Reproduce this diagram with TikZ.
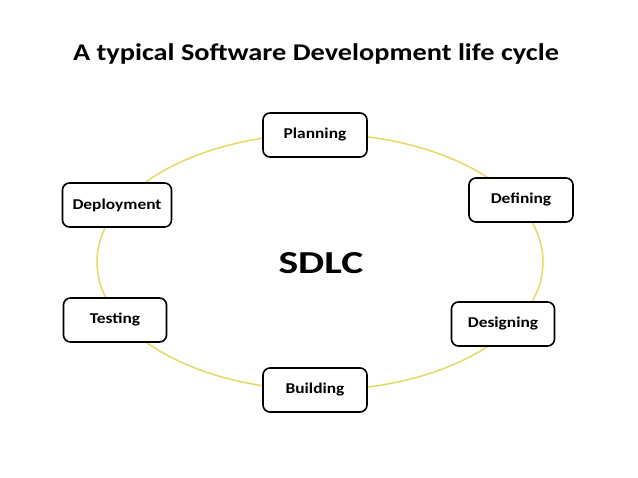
\documentclass[tikz,border=0pt]{standalone}
\usepackage{fontspec}
\usepackage{graphicx}
\setmainfont{Carlito}
\definecolor{ring}{RGB}{228,218,100}
\newcommand{\wide}[2]{\scalebox{#1}[1]{#2}}
\begin{document}
\begin{tikzpicture}[x=1pt,y=1pt,
  phase/.style={draw=black, line width=1.6pt, rounded corners=7pt, fill=white, minimum height=44pt, inner sep=0pt, font=\bfseries\fontsize{15}{17}\selectfont}]
\useasboundingbox (0,0) rectangle (638,478);
\fill[white] (0,0) rectangle (638,478);
\node[font=\bfseries\fontsize{24}{28}\selectfont] (title) at (316,424) {\wide{1.18}{A typical Software Development life cycle}};
\draw[ring, line width=1.5pt] (320,216) ellipse [x radius=223, y radius=128];
\node[phase, minimum width=104pt] (plan) at (315,343) {\wide{1.16}{Planning}};
\node[phase, minimum width=104pt] (def) at (521,278) {\wide{1.16}{Defining}};
\node[phase, minimum width=103pt] (des) at (503,154) {\wide{1.16}{Designing}};
\node[phase, minimum width=104pt] (build) at (315,88) {\wide{1.16}{Building}};
\node[phase, minimum width=103pt] (test) at (115,158) {\wide{1.16}{Testing}};
\node[phase, minimum width=109pt] (dep) at (117,273) {\wide{1.16}{Deployment}};
\node[font=\bfseries\fontsize{32}{36}\selectfont] (sdlc) at (321,215) {\wide{1.3}{SDLC}};
\end{tikzpicture}
\end{document}
